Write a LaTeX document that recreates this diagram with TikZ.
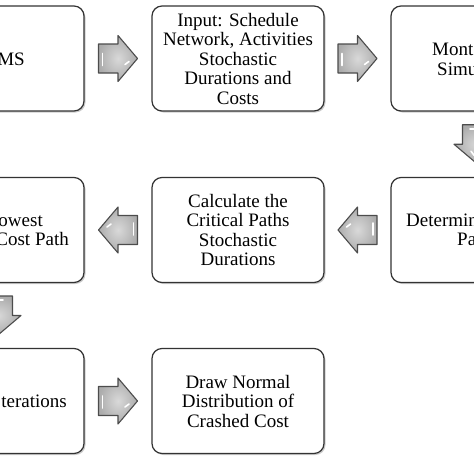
\documentclass[tikz,border=0pt]{standalone}
\usepackage{fontspec}
\setmainfont{Liberation Serif}
\usetikzlibrary{shadows,calc}

\begin{document}
\begin{tikzpicture}[x=1pt, y=-1pt,
	box/.style={draw=black!80, line width=1.2pt, rounded corners=10pt, fill=white, minimum width=172pt, minimum height=105pt, align=center, inner sep=2pt, font=\fontsize{19}{19.5}\selectfont, drop shadow={shadow xshift=1.5pt, shadow yshift=-1.5pt, fill=black!40, opacity=0.5}},
	txt/.style={inner sep=0pt, font=\fontsize{19}{19.5}\selectfont},
	blockarrow/.pic={
		\path[draw=black!70, line width=1.1pt, line join=round, inner color=gray!30, outer color=gray!65]
			(-19.5pt,-14.5pt) -- (0pt,-14.5pt) -- (0pt,-23pt) -- (19.5pt,0pt) -- (0pt,23pt) -- (0pt,14.5pt) -- (-19.5pt,14.5pt) -- cycle;
		\draw[white, line width=1.6pt, line cap=round] (-15.5pt,-7pt) -- (-15.5pt,5pt);
		\draw[white, line width=1.6pt, line cap=round] (7pt,-6pt) -- (11pt,-3pt);
	}]
	\useasboundingbox (0,0) rectangle (474,474);
	\clip (0,0) rectangle (474,474);
	% boxes
	\node[box] (cpms) at (-2,58.5) {};
	\node[box] (input) at (238,58.5) {Input: Schedule\\Network, Activities\\Stochastic\\Durations and\\Costs};
	\node[box] (mcs) at (477,58.5) {};
	\node[box] (lowest) at (-2,230) {};
	\node[box] (calc) at (238,230) {Calculate the\\Critical Paths\\Stochastic\\Durations};
	\node[box] (crit) at (477,230) {};
	\node[box] (iter) at (-2,401) {};
	\node[box] (normal) at (238,401) {Draw Normal\\Distribution of\\Crashed Cost};
	% texts cut by the edge
	\node[txt, anchor=base east] (cpmstxt) at (25,65) {MS};
	\node[txt, anchor=base west] (mcstxta) at (432,55.5) {Mont};
	\node[txt, anchor=base west] (mcstxtb) at (437,75) {Simu};
	\node[txt, anchor=base east] (lowtxta) at (43,226) {owest};
	\node[txt, anchor=base east] (lowtxtb) at (69,245.5) {Cost Path};
	\node[txt, anchor=base west] (crittxta) at (406,226) {Determin};
	\node[txt, anchor=base west] (crittxtb) at (457,245.5) {Pa};
	\node[txt, anchor=base east] (itertxt) at (67,407) {terations};
	% arrows
	\pic at ($(cpms.east)!0.5!(input.west)$) {blockarrow};
	\pic at ($(input.east)!0.5!(mcs.west)$) {blockarrow};
	\pic[rotate=270] at ($(mcs.south)!0.5!(crit.north)$) {blockarrow};
	\pic[rotate=180] at ($(crit.west)!0.5!(calc.east)$) {blockarrow};
	\pic[rotate=180] at ($(calc.west)!0.5!(lowest.east)$) {blockarrow};
	\pic[rotate=270] at ($(lowest.south)!0.5!(iter.north)$) {blockarrow};
	\pic at ($(iter.east)!0.5!(normal.west)$) {blockarrow};
\end{tikzpicture}
\end{document}
